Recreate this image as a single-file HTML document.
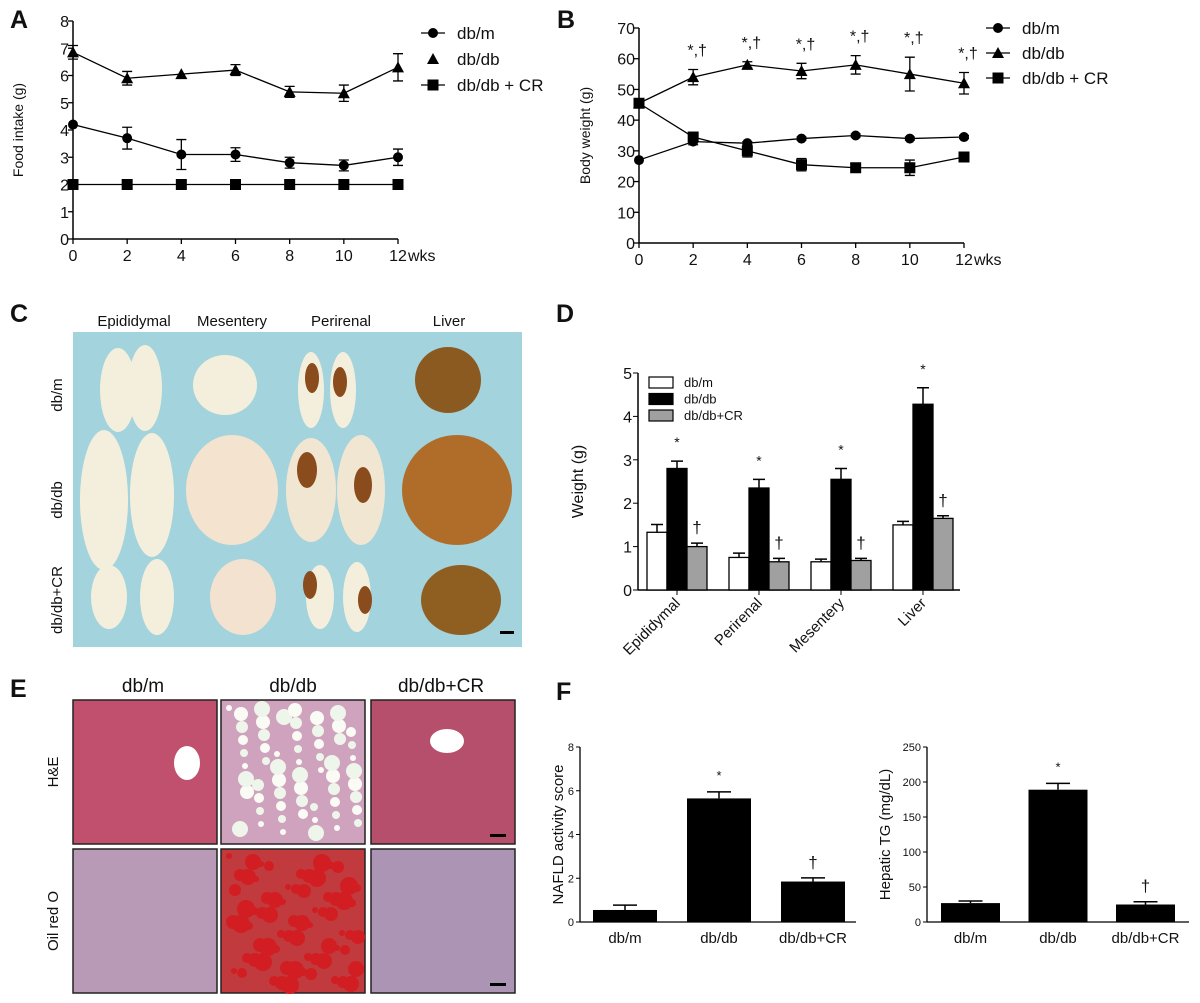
<!DOCTYPE html>
<html><head><meta charset="utf-8"><style>
body{margin:0;background:#fff}
svg{display:block;font-family:"Liberation Sans",Arial,sans-serif}
</style></head><body>
<svg id="fig" width="1200" height="1003" viewBox="0 0 1200 1003" xmlns="http://www.w3.org/2000/svg"></svg>
<script>
const weeks=[0,2,4,6,8,10,12];
const aDbm=[4.2,3.7,3.1,3.1,2.8,2.7,3.0];
const aDbmErr=[0,0.4,0.55,0.25,0.2,0.2,0.3];
const aDbdb=[6.85,5.9,6.05,6.2,5.4,5.35,6.3];
const aDbdbErr=[0.25,0.25,0,0.2,0.2,0.3,0.5];
const aCR=[2,2,2,2,2,2,2];
const aCRErr=[0,0,0,0,0,0,0];
const aTicks=[0,1,2,3,4,5,6,7,8];
const bDbm=[27,33,32.5,34,35,34,34.5];
const bDbmErr=[0,1,0.5,0.5,0.5,0.5,0.5];
const bDbdb=[45.5,54,58,56,58,55,52];
const bDbdbErr=[0,2.5,1,2.5,3,5.5,3.5];
const bCR=[45.5,34.5,30,25.5,24.5,24.5,28];
const bCRErr=[0,1.5,2,2,0.5,2.5,0.5];
const bTicks=[0,10,20,30,40,50,60,70];
const dCats=["Epididymal","Perirenal","Mesentery","Liver"];
const dDbm=[1.33,0.75,0.65,1.5];
const dDbmErr=[0.18,0.1,0.06,0.08];
const dDbdb=[2.8,2.35,2.55,4.28];
const dDbdbErr=[0.17,0.2,0.25,0.38];
const dCR=[1.0,0.65,0.68,1.65];
const dCRErr=[0.08,0.08,0.05,0.06];
const dTicks=[0,1,2,3,4,5];
const fCats=["db/m","db/db","db/db+CR"];
const fNas=[0.55,5.65,1.85];
const fNasErr=[0.22,0.3,0.17];
const fNasTicks=[0,2,4,6,8];
const fTg=[27,189,25];
const fTgErr=[3,9,4];
const fTgTicks=[0,50,100,150,200,250];

const NS="http://www.w3.org/2000/svg";
const svg=document.getElementById('fig');
function mk(tag,attrs,parent,text){const e=document.createElementNS(NS,tag);for(const k in attrs)e.setAttribute(k,attrs[k]);if(text!==undefined)e.textContent=text;(parent||svg).appendChild(e);return e;}
function grp(name,parent){const g=mk('g',{},parent);return g;}
function txt(g,x,y,s,size,name,extra){const t=mk('text',Object.assign({x:x,y:y,'font-size':size,fill:'#111'},extra||{}),g,s);return t;}

[["A",10,28],["B",557,28],["C",10,322],["D",556,322],["E",10,697],["F",556,700]].forEach(p=>{
  txt(svg,p[1],p[2],p[0],25,'panel-label-'+p[0].toLowerCase(),{'font-weight':'bold'});
});

function marker(g,type,x,y,name){let m;
  if(type==='c')m=mk('circle',{cx:x,cy:y,r:5,fill:'#000'},g);
  else if(type==='t')m=mk('polygon',{points:`${x},${y-6} ${x-6},${y+5} ${x+6},${y+5}`,fill:'#000'},g);
  else m=mk('rect',{x:x-5.5,y:y-5.5,width:11,height:11,fill:'#000'},g);
  }

function lineChart(o){
  const g=grp(o.name);
  const X=v=>o.x0+(v-weeks[0])/(12)*(o.x1-o.x0);
  const Y=v=>o.y0-(v-o.ymin)/(o.ymax-o.ymin)*(o.y0-o.y1);
  const ax=grp(o.name+'-axes',g);
  mk('line',{x1:o.x0,y1:o.y1,x2:o.x0,y2:o.y0,stroke:'#000','stroke-width':1.5},ax);
  mk('line',{x1:o.x0,y1:o.y0,x2:o.x1,y2:o.y0,stroke:'#000','stroke-width':1.5},ax);
  o.ticks.forEach(t=>{mk('line',{x1:o.x0-5,y1:Y(t),x2:o.x0,y2:Y(t),stroke:'#000','stroke-width':1.3},ax);
    txt(ax,o.x0-4,Y(t)+6,String(t),16,'y-tick-label',{'text-anchor':'end'});});
  weeks.forEach(w=>{mk('line',{x1:X(w),y1:o.y0,x2:X(w),y2:o.y0+5,stroke:'#000','stroke-width':1.3},ax);
    txt(ax,X(w),o.y0+22,String(w),16,'x-tick-label',{'text-anchor':'middle'});});
  txt(ax,o.x1+10,o.y0+22,'wks',16,'x-unit-label');
  txt(ax,0,0,o.ylabel,14,'y-axis-title',{transform:`translate(${o.ylx},${(o.y0+o.y1)/2}) rotate(-90)`,'text-anchor':'middle'});
  o.series.forEach(s=>{const sg=grp(o.name+'-series-'+s.key,g);
    let d='';s.v.forEach((v,i)=>{d+=(i?'L':'M')+X(weeks[i])+','+Y(v);});
    mk('path',{d:d,fill:'none',stroke:'#000','stroke-width':1.3},sg);
    s.v.forEach((v,i)=>{if(s.e[i]>0){const x=X(weeks[i]);
      mk('path',{d:`M${x},${Y(v-s.e[i])}V${Y(v+s.e[i])}M${x-5},${Y(v-s.e[i])}h10M${x-5},${Y(v+s.e[i])}h10`,stroke:'#000','stroke-width':1.3,fill:'none'},sg);}
      marker(sg,s.m,X(weeks[i]),Y(v),'point');});
  });
  if(o.annot){o.annot.forEach((a,i)=>{if(a){const v=o.series[1].v[i]+o.series[1].e[i];txt(g,X(weeks[i])+4,Y(v)-14,a,16,'significance-mark',{'text-anchor':'middle'});}});}
  const lg=grp(o.name+'-legend',g);
  o.series.forEach((s,i)=>{const ly=o.ly+i*o.lgap;
    mk('line',{x1:o.lx-12,y1:ly,x2:o.lx+12,y2:ly,stroke:'#000','stroke-width':1.3,'stroke-opacity':(o.legendNoLine&&o.legendNoLine[i])?0:1},lg);
    marker(lg,s.m,o.lx,ly,'legend-marker');
    txt(lg,o.lx+24,ly+6,s.label,17,'legend-entry');});
}
lineChart({name:'food-intake-chart',x0:73,x1:398,y0:239,y1:21,ymin:0,ymax:8,ticks:aTicks,ylabel:'Food intake (g)',ylx:23,lx:433,ly:33,lgap:26,legendNoLine:[false,true,false],
  series:[{key:'dbm',v:aDbm,e:aDbmErr,m:'c',label:'db/m'},{key:'dbdb',v:aDbdb,e:aDbdbErr,m:'t',label:'db/db'},{key:'cr',v:aCR,e:aCRErr,m:'s',label:'db/db + CR'}]});
lineChart({name:'body-weight-chart',x0:639,x1:964,y0:243,y1:28,ymin:0,ymax:70,ticks:bTicks,ylabel:'Body weight (g)',ylx:590,lx:998,ly:28,lgap:25,
  annot:[null,'*,†','*,†','*,†','*,†','*,†','*,†'],
  series:[{key:'dbm',v:bDbm,e:bDbmErr,m:'c',label:'db/m'},{key:'dbdb',v:bDbdb,e:bDbdbErr,m:'t',label:'db/db'},{key:'cr',v:bCR,e:bCRErr,m:'s',label:'db/db + CR'}]});

// Panel C photo
(function(){const g=grp('organ-photo');
  mk('rect',{x:73,y:332,width:449,height:315,fill:'#a3d3dc'},g);
  [["Epididymal",134],["Mesentery",232],["Perirenal",341],["Liver",449]].forEach(c=>txt(g,c[1],326,c[0],15,'column-label',{'text-anchor':'middle'}));
  [["db/m",395],["db/db",500],["db/db+CR",600]].forEach(r=>txt(g,62,r[1],r[0],15,'row-label',{'text-anchor':'middle',transform:`rotate(-90 62 ${r[1]})`}));
  const W='#f4efdc';
  const sh=[[118,390,18,42,W],[145,388,17,43,W],[104,500,24,70,W],[152,495,22,62,W],[109,597,18,32,W],[157,597,17,38,W],
    [225,385,32,30,W],[232,490,46,55,'#f3e3cf'],[243,597,33,38,'#f2e2cf'],
    [311,390,13,38,W],[343,390,13,38,W],[311,490,25,52,'#f1e6d2'],[361,490,24,55,'#f1e6d2'],[320,597,14,32,W],[357,597,14,35,W],
    [448,380,33,33,'#8a5a20'],[457,490,55,55,'#b06d2a'],[461,600,40,35,'#8f5f22']];
  sh.forEach(s=>{const e=mk('ellipse',{cx:s[0],cy:s[1],rx:s[2],ry:s[3],fill:s[4]},g);});
  [[312,378,7,15],[340,382,7,15],[307,470,10,18],[363,485,9,18],[310,585,7,14],[365,600,7,14]].forEach(s=>mk('ellipse',{cx:s[0],cy:s[1],rx:s[2],ry:s[3],fill:'#8a4c1c'},g));
  mk('rect',{x:500,y:631,width:14,height:3,fill:'#000'},g);
})();

// Panel D bar chart
(function(){const g=grp('organ-weight-chart');
  const x0=638,x1=960,y0=590,y1=373;const Y=v=>y0-v/5*(y0-y1);
  const grpW=82,bw=20,start=647;
  mk('line',{x1:x0,y1:y1,x2:x0,y2:y0,stroke:'#000','stroke-width':1.5},g);
  mk('line',{x1:x0,y1:y0,x2:x1,y2:y0,stroke:'#000','stroke-width':1.5},g);
  dTicks.forEach(t=>{mk('line',{x1:x0-5,y1:Y(t),x2:x0,y2:Y(t),stroke:'#000'},g);txt(g,x0-6,Y(t)+6,String(t),16,'y-tick-label',{'text-anchor':'end'});});
  txt(g,0,0,'Weight (g)',16,'y-axis-title',{transform:`translate(583,${(y0+y1)/2}) rotate(-90)`,'text-anchor':'middle'});
  const ser=[[dDbm,dDbmErr,'#fff'],[dDbdb,dDbdbErr,'#000'],[dCR,dCRErr,'#a0a0a0']];
  dCats.forEach((c,i)=>{const gx=start+i*grpW;
    ser.forEach((s,j)=>{const x=gx+j*bw,v=s[0][i],e=s[1][i];
      mk('path',{d:`M${x+bw/2},${Y(v)}V${Y(v+e)}M${x+bw/2-6},${Y(v+e)}h12`,stroke:'#000','stroke-width':1.5},g);
      const r=mk('rect',{x:x,y:Y(v),width:bw,height:y0-Y(v),fill:s[2],stroke:'#000','stroke-width':1.3},g);
      });
    txt(g,gx+bw*1.5,Y(dDbdb[i]+dDbdbErr[i])-14,'*',14,'significance-mark',{'text-anchor':'middle'});
    txt(g,gx+bw*2.5,Y(dCR[i]+dCRErr[i])-10,'†',17,'significance-mark',{'text-anchor':'middle'});
    mk('line',{x1:gx+bw*1.5,y1:y0,x2:gx+bw*1.5,y2:y0+5,stroke:'#000'},g);
    txt(g,gx+bw*1.5+4,y0+14,c,15,'x-tick-label',{'text-anchor':'end',transform:`rotate(-45 ${gx+bw*1.5+4} ${y0+14})`});
  });
  const lg=grp('organ-weight-legend',g);
  [['db/m','#fff'],['db/db','#000'],['db/db+CR','#a0a0a0']].forEach((l,i)=>{
    mk('rect',{x:649,y:377+i*16.5,width:24,height:11,fill:l[1],stroke:'#000','stroke-width':1.2},lg);
    txt(lg,684,387+i*16.5,l[0],13,'legend-entry');});
})();

// Panel E histology
(function(){const g=grp('histology-panel');
  const cols=[73,221,371],rows=[700,849],w=144,h=144;
  [["db/m",143],["db/db",293],["db/db+CR",441]].forEach(c=>txt(g,c[1],692,c[0],19,'column-label',{'text-anchor':'middle'}));
  txt(g,0,0,'H&E',15,'row-label',{transform:'translate(58,772) rotate(-90)','text-anchor':'middle'});
  txt(g,0,0,'Oil red O',15,'row-label',{transform:'translate(58,921) rotate(-90)','text-anchor':'middle'});
  const fills=[['#c0506e','#cfa3bd','#b54f6c'],['#b99ab6','#c03a3e','#ab94b4']];
  rows.forEach((ry,ri)=>cols.forEach((cx,ci)=>{
    const r=mk('rect',{x:cx,y:ry,width:w,height:h,fill:fills[ri][ci],stroke:'#222','stroke-width':1.5},g);
    
  }));
  mk('ellipse',{cx:187,cy:763,rx:13,ry:17,fill:'#fff'},g);
  mk('ellipse',{cx:447,cy:741,rx:17,ry:12,fill:'#fff'},g);
  for(let i=0;i<60;i++){const x=229+((i*37)%130),y=708+((i*53)%128),rr=3+((i*7)%6);
    mk('circle',{cx:x,cy:y,r:rr,fill:i%2?'#eef5ea':'#fbfbf5'},g);}
  for(let i=0;i<70;i++){const x=229+((i*41)%130),y=856+((i*59)%130),rr=3+((i*5)%7);
    mk('circle',{cx:x,cy:y,r:rr,fill:'#d21e22'},g);}
  mk('rect',{x:490,y:834,width:16,height:3,fill:'#000'},g);
  mk('rect',{x:490,y:983,width:16,height:3,fill:'#000'},g);
})();

// Panel F bars
function simpleBar(o){const g=grp(o.name);
  const x0=o.x0,y0=922,y1=747;const Y=v=>y0-v/o.ymax*(y0-y1);
  mk('line',{x1:x0,y1:y1,x2:x0,y2:y0,stroke:'#000','stroke-width':1.3},g);
  mk('line',{x1:x0,y1:y0,x2:o.xend,y2:y0,stroke:'#000','stroke-width':1.3},g);
  o.ticks.forEach(t=>{mk('line',{x1:x0-4,y1:Y(t),x2:x0,y2:Y(t),stroke:'#000'},g);txt(g,x0-6,Y(t)+4,String(t),11,'y-tick-label',{'text-anchor':'end'});});
  txt(g,0,0,o.ylabel,15,'y-axis-title',{transform:`translate(${o.ylx},${(y0+y1)/2}) rotate(-90)`,'text-anchor':'middle'});
  fCats.forEach((c,i)=>{const bw=o.bw,x=o.bx+i*o.gap,v=o.v[i],e=o.e[i];
    mk('path',{d:`M${x+bw/2},${Y(v)}V${Y(v+e)}M${x+bw/2-12},${Y(v+e)}h24`,stroke:'#000','stroke-width':1.5},g);
    const r=mk('rect',{x:x,y:Y(v),width:bw,height:y0-Y(v),fill:'#000'},g);
    
    txt(g,x+bw/2,943,c,15,'x-tick-label',{'text-anchor':'middle'});
    if(i===1)txt(g,x+bw/2,Y(v+e)-12,'*',13,'significance-mark',{'text-anchor':'middle'});
    if(i===2)txt(g,x+bw/2,Y(v+e)-10,'†',17,'significance-mark',{'text-anchor':'middle'});
  });
}
simpleBar({name:'nafld-score-chart',x0:580,xend:856,bx:593,bw:64,gap:94,ymax:8,ticks:fNasTicks,v:fNas,e:fNasErr,ylabel:'NAFLD activity score',ylx:563});
simpleBar({name:'hepatic-tg-chart',x0:927,xend:1189,bx:941,bw:59,gap:87.5,ymax:250,ticks:fTgTicks,v:fTg,e:fTgErr,ylabel:'Hepatic TG (mg/dL)',ylx:890});
</script>
</body></html>
